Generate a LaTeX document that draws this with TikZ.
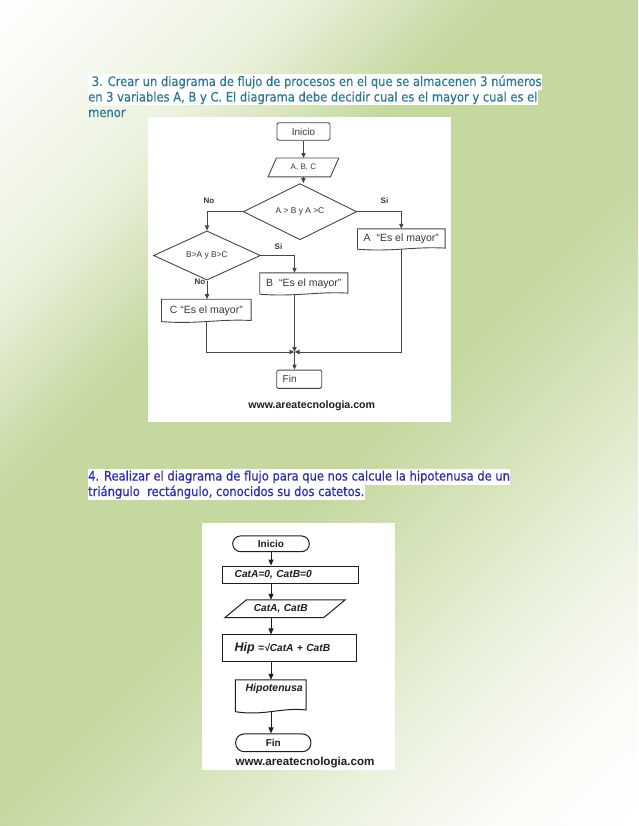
\documentclass[tikz,border=0pt]{standalone}
\usepackage{fontspec}
\usetikzlibrary{arrows.meta,shapes.geometric,calc}
\newfontfamily\bodyfont[FakeStretch=0.885,FakeBold=0.5]{DejaVu Sans}
\newfontfamily\arialfont{Liberation Sans}
\definecolor{bgg}{RGB}{197,216,160}
\colorlet{bgA}{bgg!35!white}
\colorlet{bgB}{bgg!60!white}
\colorlet{bgC}{bgg!8!white}
\definecolor{tealtxt}{RGB}{46,120,150}
\definecolor{bluetxt}{RGB}{45,45,175}
\definecolor{chartone}{RGB}{70,70,70}
\definecolor{charttxt}{RGB}{55,55,55}
\definecolor{charttwo}{RGB}{30,30,30}
\pgfdeclarehorizontalshading{bgband}{100bp}{color(0bp)=(white); color(25bp)=(white); color(35bp)=(bgA); color(42bp)=(bgg); color(53bp)=(bgg); color(60bp)=(bgB); color(64bp)=(bgA); color(70bp)=(bgC); color(75bp)=(white); color(100bp)=(white)}
\newcommand{\docshape}[3][]{%
  \draw[#1] (#2.north west) -- (#2.south west)
    .. controls ($(#2.south west)!0.4!(#2.south east)+(0,#3*1.3)$) and ($(#2.south west)!0.65!(#2.south east)+(0,-#3*1.3)$)
    .. ($(#2.south east)+(0,-#3*0.5)$) -- (#2.north east) -- cycle;}
\begin{document}
\begin{tikzpicture}[x=1pt,y=-1pt,
  paratext/.style={anchor=base west, inner xsep=0.5pt, inner ysep=0pt, text height=11.5pt, text depth=4pt, font=\bodyfont\fontsize{13}{15.5}\selectfont},
  line1/.style={draw=chartone, line width=0.9pt},
  arr1/.style={line1, -{Triangle[length=5pt,width=4.2pt]}},
  txt1/.style={inner sep=0pt, text=charttxt, font=\arialfont\fontsize{10.5}{12}\selectfont},
  box1/.style={txt1, line1},
  lab1/.style={inner sep=0pt, text=charttxt, font=\arialfont\bfseries\fontsize{8}{9}\selectfont},
  line2/.style={draw=charttwo, line width=1pt},
  arr2/.style={line2, -{Triangle[length=6pt,width=5pt]}},
  txt2/.style={inner sep=0pt, text=charttwo, font=\arialfont\bfseries\itshape\fontsize{10.2}{11}\selectfont},
  box2/.style={txt2, line2},
  term2/.style={line2, inner sep=0pt, text=charttwo, font=\arialfont\bfseries\fontsize{10}{11}\selectfont},
  www/.style={inner sep=0pt, text=black!88, font=\arialfont\bfseries\fontsize{#1}{13}\selectfont}
]
\useasboundingbox (0,0) rectangle (638,826);
% page background
\begin{scope}
  \clip (0,0) rectangle (638,826);
  \begin{scope}[transform canvas={rotate=-45}]
    \shade[shading=bgband] (-2pt,-586pt) rectangle (1037pt,453pt);
  \end{scope}
\end{scope}

% ---------- text block 1 ----------
\node[paratext, text=tealtxt, fill=white] (p1a) at (87.5,86) {\ 3. Crear un diagrama de flujo de procesos en el que se almacenen 3 números};
\node[paratext, text=tealtxt, fill=white] (p1b) at (87.5,101.5) {en 3 variables A, B y C. El diagrama debe decidir cual es el mayor y cual es el};
\node[paratext, text=tealtxt] (p1c) at (87.5,117) {menor};

% ---------- chart 1 ----------
\fill[white] (148,117) rectangle (451,422);
\node[box1, rounded corners=2pt, minimum width=53, minimum height=17.5, font=\arialfont\fontsize{10}{12}\selectfont] (ini1) at (303.5,131.5) {Inicio};
\node[txt1, minimum width=62, minimum height=18.5, font=\arialfont\fontsize{8}{9}\selectfont] (abc) at (303.4,167.5) {A, B, C};
\draw[line1] ([xshift=4.2pt]abc.north west) -- ([xshift=4.2pt]abc.north east) -- ([xshift=-4.2pt]abc.south east) -- ([xshift=-4.2pt]abc.south west) -- cycle;
\node[box1, diamond, minimum width=113.5, minimum height=35, font=\arialfont\fontsize{8.4}{9}\selectfont] (d1) at (300,211.7) {A > B y A >C};
\node[txt1, minimum width=87.3, minimum height=20] (boxA) at (401.3,239) {A\ \ “Es el mayor”};
\docshape[line1]{boxA}{2.2}
\node[box1, diamond, minimum width=107, minimum height=36, font=\arialfont\fontsize{8.4}{9}\selectfont] (d2) at (207,255.5) {B>A y B>C};
\node[txt1, minimum width=87.7, minimum height=21] (boxB) at (303.8,283.5) {B\ \ “Es el mayor”};
\docshape[line1]{boxB}{2.2}
\node[txt1, minimum width=89.3, minimum height=22] (boxC) at (206.3,310.4) {C “Es el mayor”};
\docshape[line1]{boxC}{2.2}
\coordinate (join) at (294.5,352);
\node[box1, rounded corners=1.5pt, minimum width=45, minimum height=18.3, text width=33, align=left, inner xsep=6pt, font=\arialfont\fontsize{10}{12}\selectfont] (fin1) at (299.2,379.2) {Fin};
\node[lab1] (no1) at (209,201) {No};
\node[lab1] (si1) at (384.5,201) {Si};
\node[lab1] (si2) at (278.5,246.5) {Si};
\node[lab1] (no2) at (200,281.7) {No};
\node[www=10.6] (www1) at (311.7,406) {www.areatecnologia.com};

\draw[arr1] (ini1.south) -- (ini1.south |- abc.north);
\draw[arr1] (abc.south) -- (abc.south |- d1.north);
\draw[arr1] (d1.west) -| (d2.north);
\draw[arr1] (d1.east) -| (boxA.north);
\draw[arr1] (d2.east) -| (boxB.north -| join);
\draw[arr1] (d2.south) -- (d2.south |- boxC.north);
\draw[arr1] (boxC.south) |- (join);
\draw[arr1] (boxB.south -| join) -- (join);
\draw[arr1] (boxA.south) |- (join);
\draw[arr1] (join) -- (join |- fin1.north);

% ---------- text block 2 ----------
\node[paratext, text=bluetxt, fill=white] (p2a) at (87.5,480.5) {4. Realizar el diagrama de flujo para que nos calcule la hipotenusa de un};
\node[paratext, text=bluetxt, fill=white] (p2b) at (87.5,496) {triángulo\ \ rectángulo, conocidos su dos catetos.};

% ---------- chart 2 ----------
\fill[white] (202,523) rectangle (395,770);
\node[term2, rounded corners=7.8pt, minimum width=76.6, minimum height=15.7] (ini2) at (271,543.8) {Inicio};
\node[box2, minimum width=135.6, minimum height=17.3, text width=111.6, align=left, inner xsep=12pt] (cat0) at (290.5,574.7) {CatA=0, CatB=0};
\node[txt2, minimum width=98.4, minimum height=17.5, text width=62.4, align=left, inner xsep=18pt] (rd) at (285,608.75) {CatA, CatB};
\draw[line2] ([xshift=10.8pt]rd.north west) -- ([xshift=10.8pt]rd.north east) -- ([xshift=-10.8pt]rd.south east) -- ([xshift=-10.8pt]rd.south west) -- cycle;
\node[box2, minimum width=134, minimum height=26.7, text width=110, align=left, inner xsep=12pt] (hip) at (289.7,648.3) {{\fontsize{12.5}{14}\selectfont Hip} =√CatA + CatB};
\node[txt2, text width=50.3, align=left, inner xsep=10pt, text height=11.5pt, text depth=20pt, font=\arialfont\bfseries\itshape\fontsize{10.5}{12}\selectfont] (hipo) at (270.8,695.75) {\mbox{Hipotenusa}};
\docshape[line2]{hipo}{3.5}
\node[term2, rounded corners=8.5pt, minimum width=75.3, minimum height=17.7] (fin2) at (273.3,742.8) {Fin};
\node[www=11.6] (www2) at (305,762.7) {www.areatecnologia.com};

\draw[arr2] (ini2.south) -- (ini2.south |- cat0.north);
\draw[arr2] (cat0.south -| ini2) -- (ini2 |- rd.north);
\draw[arr2] (rd.south -| ini2) -- (ini2 |- hip.north);
\draw[arr2] (hip.south -| ini2) -- (ini2 |- hipo.north);
\draw[arr2] (hipo.south -| ini2) -- (ini2 |- fin2.north);
\end{tikzpicture}
\end{document}
